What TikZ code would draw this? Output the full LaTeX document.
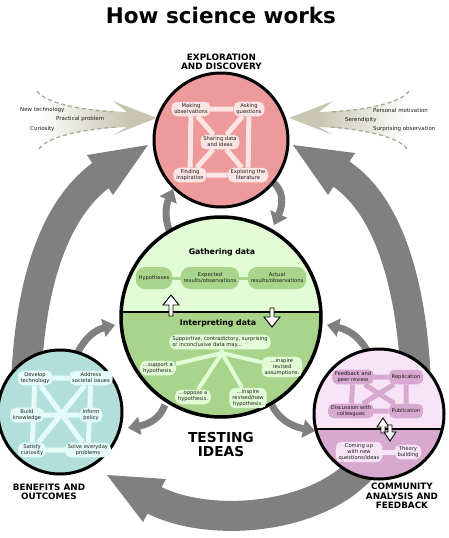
\documentclass[tikz,border=0pt]{standalone}
\usepackage{fontspec}
\setmainfont{DejaVu Sans}
\usetikzlibrary{arrows.meta}
\pgfdeclarelayer{back}
\pgfdeclarelayer{mid}
\pgfsetlayers{back,mid,main}
\definecolor{redfill}{HTML}{EC9A9A}
\definecolor{redpill}{HTML}{FBE4E4}
\definecolor{greenlight}{HTML}{E2FCD6}
\definecolor{greendark}{HTML}{A8D48C}
\definecolor{bluefill}{HTML}{B2DFDC}
\definecolor{bluepill}{HTML}{E4FBFA}
\definecolor{pinklight}{HTML}{F7E4F6}
\definecolor{pinkdark}{HTML}{D8A9D0}
\definecolor{arrowgray}{HTML}{808080}
\definecolor{beige}{HTML}{C8C6B2}
\definecolor{dashgray}{HTML}{ABA999}
\definecolor{textdark}{HTML}{1C1C1C}
\tikzset{
  smalltext/.style={text=textdark, align=center, font=\fontsize{5.2}{5.9}\selectfont},
  pill/.style={smalltext, rounded corners=5.5pt, inner xsep=2.8pt, inner ysep=1.8pt, minimum height=14.5pt},
  redp/.style={pill, fill=redpill},
  gtop/.style={pill, fill=greendark, minimum height=22pt, rounded corners=9pt},
  gbot/.style={pill, fill=greenlight},
  bluep/.style={pill, fill=bluepill},
  pinkp/.style={pill, fill=pinkdark},
  pinkq/.style={pill, fill=pinklight},
  conn/.style={line width=5pt},
  bigshaft/.style={draw=arrowgray, line width=30pt},
  bighead/.style={fill=arrowgray},
  smallarrow/.style={draw=arrowgray, line width=7pt, -{Triangle[length=12pt,width=18pt]}},
  seclabel/.style={font=\fontsize{8.8}{9.3}\selectfont\bfseries, align=center, inner sep=0pt},
  heading/.style={font=\fontsize{7.8}{9}\selectfont\bfseries, inner sep=0pt},
  inlabel/.style={font=\fontsize{5.5}{6}\selectfont, text=textdark, anchor=west, inner sep=0pt},
  hollow/.style={fill=white, draw=black, line width=0.9pt},
  ring/.style={draw=black, line width=3pt},
  dashline/.style={draw=dashgray, line width=1.3pt, dash pattern=on 4pt off 3pt},
}
\begin{document}
\begin{tikzpicture}[x=1pt,y=-1pt]
\useasboundingbox (0,0) rectangle (449,538);

% ---------- title and labels ----------
\node[font=\fontsize{21.5}{24}\selectfont\bfseries, inner sep=0pt] (title) at (221,15) {How science works};
\node[seclabel] (lex) at (221.5,62) {EXPLORATION\\AND DISCOVERY};
\node[seclabel, font=\fontsize{13.7}{14}\selectfont\bfseries] (lti) at (221,445) {TESTING\\IDEAS};
\node[seclabel] (lbo) at (49,492) {BENEFITS AND\\OUTCOMES};
\node[seclabel] (lco) at (402,496) {COMMUNITY\\ANALYSIS AND\\FEEDBACK};

\node[inlabel] (in1) at (20,110) {New technology};
\node[inlabel] (in2) at (56,119) {Practical problem};
\node[inlabel] (in3) at (30,129) {Curiosity};
\node[inlabel] (in4) at (373,110) {Personal motivation};
\node[inlabel] (in5) at (345,120) {Serendipity};
\node[inlabel] (in6) at (373,129) {Surprising observation};

% ---------- background: arrows and circles ----------
\begin{pgfonlayer}{back}
% input arrows
\shade[left color=white, right color=beige] (37,91) .. controls (45,103) and (80,110) .. (127,112) -- (127,127) .. controls (80,129) and (47,137) .. (39,149) -- cycle;
\fill[beige] (127,112) -- (113,101) -- (157,118) -- (113,135) -- (127,127) -- cycle;
\draw[dashline] (37,91) .. controls (45,103) and (80,110) .. (116,112);
\draw[dashline] (39,149) .. controls (47,137) and (80,130) .. (116,127);
\shade[left color=beige, right color=white] (409,91) .. controls (401,103) and (366,110) .. (319,112) -- (319,127) .. controls (366,129) and (399,137) .. (407,149) -- cycle;
\fill[beige] (319,112) -- (333,101) -- (289,118) -- (333,135) -- (319,127) -- cycle;
\draw[dashline] (409,91) .. controls (401,103) and (366,110) .. (330,112);
\draw[dashline] (407,149) .. controls (399,137) and (366,130) .. (330,127);

% big gray arrows
\draw[bigshaft] (26,385) .. controls (30,275) and (58,205) .. (104,173);
\fill[bighead] (148,145) -- (87,155) -- (113,195) -- cycle;
\draw[bigshaft] (416,385) .. controls (412,275) and (384,200) .. (338,172);
\fill[bighead] (293,145) -- (355,153) -- (328,195) -- cycle;
\draw[bigshaft] (372,455) .. controls (330,520) and (210,530) .. (152,499);
\fill[bighead] (107,475) -- (166,479) -- (143,522) -- cycle;

% small gray arrows
\draw[smallarrow] (270,180) .. controls (285,190) and (283,205) .. (274,225);
\draw[smallarrow] (170,232) .. controls (164,218) and (166,205) .. (173,189);
\draw[smallarrow] (165,405) .. controls (160,418) and (150,424) .. (128,428);
\draw[smallarrow] (272,405) .. controls (278,418) and (290,426) .. (315,431);
\draw[smallarrow] (78,352) .. controls (85,338) and (95,330) .. (115,325);
\draw[smallarrow] (368,352) .. controls (360,338) and (350,330) .. (327,325);

% red circle
\fill[redfill] (221,140) circle (67);
\draw[ring] (221,140) circle (67);
% green circle
\begin{scope}
\clip (221,317) circle (100);
\fill[greenlight] (110,210) rectangle (335,312);
\fill[greendark] (110,312) rectangle (335,425);
\end{scope}
\draw[line width=1.3pt] (121,312) -- (321,312);
\draw[ring, line width=3.5pt] (221,317) circle (100);
% blue circle
\fill[bluefill] (60,412) circle (62);
\draw[ring] (60,412) circle (62);
% pink circle
\begin{scope}
\clip (379,414) circle (65);
\fill[pinklight] (310,345) rectangle (450,429);
\fill[pinkdark] (310,429) rectangle (450,485);
\end{scope}
\draw[line width=1.3pt] (316,429) -- (442,429);
\draw[ring] (379,414) circle (65);
\end{pgfonlayer}

% ---------- red circle nodes ----------
\node[redp] (mk) at (191,109) {Making\\observations};
\node[redp] (ak) at (249,109) {Asking\\questions};
\node[redp] (sh) at (220,142) {Sharing data\\and ideas};
\node[redp] (fi) at (190,175) {Finding\\inspiration};
\node[redp] (el) at (248,175) {Exploring the\\literature};

% ---------- green circle nodes ----------
\node[heading] (gd) at (222,252) {Gathering data};
\node[gtop] (hy) at (154,278) {Hypotheses};
\node[gtop] (er) at (210,278) {Expected\\results/observations};
\node[gtop] (ar) at (277,278) {Actual\\results/observations};
\node[heading] (idt) at (218,323) {Interpreting data};
\node[gbot, align=left] (sup) at (220,342) {Supportive, contradictory, surprising\\or inconclusive data may...};
\coordinate (hub) at (222,353);
\node[gbot] (s1) at (158,368) {...support a\\hypothesis.};
\node[gbot] (s2) at (193,397) {...oppose a\\hypothesis.};
\node[gbot] (s3) at (248,398) {...inspire\\revised/new\\hypothesis.};
\node[gbot] (s4) at (282,367) {...inspire\\revised\\assumptions.};

% ---------- blue circle nodes ----------
\node[bluep] (dv) at (35,378) {Develop\\technology};
\node[bluep] (ad) at (91,378) {Address\\societal issues};
\node[bluep] (bk) at (27,415) {Build\\knowledge};
\node[bluep] (ip) at (91,415) {Inform\\policy};
\node[bluep] (sc) at (32,450) {Satisfy\\curiosity};
\node[bluep] (se) at (88,450) {Solve everyday\\problems};

% ---------- pink circle nodes ----------
\node[pinkp] (fb) at (353,377) {Feedback and\\peer review};
\node[pinkp] (rp) at (406,377) {Replication};
\node[pinkp] (dc) at (351,411) {Discussion with\\colleagues};
\node[pinkp] (pb) at (406,411) {Publication};
\node[pinkq] (cm) at (359,452) {Coming up\\with new\\questions/ideas};
\node[pinkq] (tb) at (408,452) {Theory\\building};

% ---------- connectors ----------
\begin{pgfonlayer}{mid}
\draw[conn, redpill] (mk) -- (ak) (mk) -- (fi) (ak) -- (el) (fi) -- (el)
  (mk) -- (sh) (ak) -- (sh) (fi) -- (sh) (el) -- (sh);
\draw[line width=3pt, greendark] (hy) -- (er) -- (ar);
\draw[line width=4pt, greenlight] (hub) -- (s1) (hub) -- (s2) (hub) -- (s3) (hub) -- (s4) (hub) -- (sup);
\draw[conn, bluepill] (dv) -- (ad) (bk) -- (ip) (sc) -- (se) (dv) -- (sc) (ad) -- (se)
  (dv) -- (se) (ad) -- (sc);
\draw[conn, pinkdark] (fb) -- (rp) (dc) -- (pb) (fb) -- (dc) (rp) -- (pb) (fb) -- (pb) (rp) -- (dc);
\draw[conn, pinklight] (cm) -- (tb);
\end{pgfonlayer}

% ---------- hollow arrows ----------
\draw[hollow] (169,316) -- (169,305) -- (163,305) -- (171,295) -- (179,305) -- (173,305) -- (173,316) -- cycle;
\draw[hollow] (270,308) -- (270,317) -- (264,317) -- (272,327) -- (280,317) -- (274,317) -- (274,308) -- cycle;
\draw[hollow] (381,433) -- (381,427) -- (377,427) -- (383,418) -- (389,427) -- (385,427) -- (385,433) -- cycle;
\draw[hollow] (388,425) -- (388,432) -- (384,432) -- (390,441) -- (396,432) -- (392,432) -- (392,425) -- cycle;
\end{tikzpicture}
\end{document}
